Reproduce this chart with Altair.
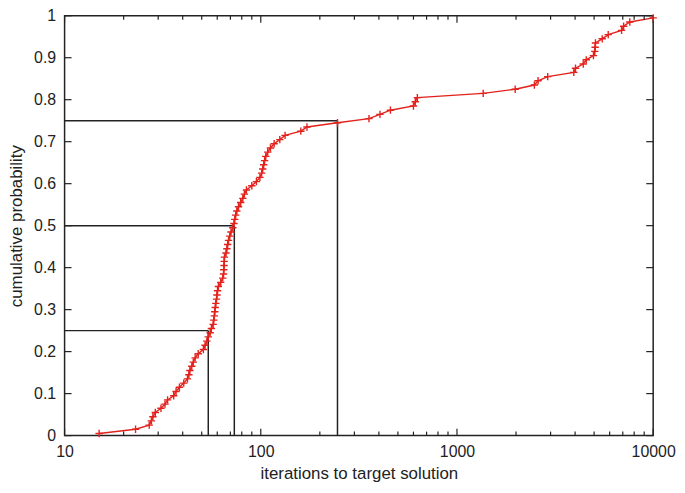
import altair as alt
import pandas as pd

# iterations to target solution (sorted), one per run
iterations = [
    15, 23, 27, 27.7, 28.2, 29, 31, 32.5, 33.5, 36,
    37, 38.5, 40.5, 42.3, 43, 43.5, 44.5, 45.3, 46.3, 48,
    51, 52, 53.1, 54, 55.2, 56, 57.2, 57.6, 58, 58.3,
    58.6, 59, 59.5, 59.8, 60.2, 60.8, 62.5, 64, 64.6, 64.8,
    65, 65.1, 65.3, 66.5, 67.2, 67.8, 68.5, 69.5, 70.5, 72,
    73, 73.7, 74.5, 75.5, 77, 79, 81, 82.5, 84.5, 90,
    95, 99, 101, 102.3, 103.5, 104.6, 106, 108.5, 112, 117,
    125, 133, 160, 172, 246, 356, 405, 458, 600, 613,
    628, 1360, 1980, 2480, 2590, 2900, 3940, 4020, 4400, 4560,
    4960, 5040, 5060, 5080, 5500, 5900, 6900, 7070, 7600, 10000,
]
probability = [
    0.005, 0.015, 0.025, 0.035, 0.045, 0.055, 0.065, 0.075, 0.085, 0.095,
    0.105, 0.115, 0.125, 0.135, 0.145, 0.155, 0.165, 0.175, 0.185, 0.195,
    0.205, 0.215, 0.225, 0.235, 0.245, 0.255, 0.265, 0.275, 0.285, 0.295,
    0.305, 0.315, 0.325, 0.335, 0.345, 0.355, 0.365, 0.375, 0.385, 0.395,
    0.405, 0.415, 0.425, 0.435, 0.445, 0.455, 0.465, 0.475, 0.485, 0.495,
    0.505, 0.515, 0.525, 0.535, 0.545, 0.555, 0.565, 0.575, 0.585, 0.595,
    0.605, 0.615, 0.625, 0.635, 0.645, 0.655, 0.665, 0.675, 0.685, 0.695,
    0.705, 0.715, 0.725, 0.735, 0.745, 0.755, 0.765, 0.775, 0.785, 0.795,
    0.805, 0.815, 0.825, 0.835, 0.845, 0.855, 0.865, 0.875, 0.885, 0.895,
    0.905, 0.915, 0.925, 0.935, 0.945, 0.955, 0.965, 0.975, 0.985, 0.995,
]

quartile_x = [54, 73.3, 246]
quartile_p = [0.25, 0.5, 0.75]

x_major = [10, 100, 1000, 10000]
x_minor = [20, 30, 40, 50, 60, 70, 80, 90,
           200, 300, 400, 500, 600, 700, 800, 900,
           2000, 3000, 4000, 5000, 6000, 7000, 8000, 9000]
y_ticks = [0, 0.1, 0.2, 0.3, 0.4, 0.5, 0.6, 0.7, 0.8, 0.9, 1.0]

W, H = 593, 423
FONT = "Liberation Sans, Arial, Helvetica, sans-serif"
RED = "#e3221c"

xs = alt.Scale(type="log", domain=[10, 10000], nice=False)
ys = alt.Scale(domain=[0, 1], nice=False)

df = pd.DataFrame({"it": iterations, "p": probability})
dq = pd.DataFrame({"q": quartile_x, "p": quartile_p, "start": [10] * 3, "zero": [0] * 3})
dmaj = pd.DataFrame({"v": x_major})
dmin = pd.DataFrame({"v": x_minor})
dy = pd.DataFrame({"v": y_ticks})

base_x = alt.X(
    "it:Q", scale=xs,
    axis=alt.Axis(values=x_major, format="d", title="iterations to target solution",
                  tickSize=0, labelPadding=8, titlePadding=6, domain=False, grid=False,
                  labelFlush=False),
)
base_y = alt.Y(
    "p:Q", scale=ys,
    axis=alt.Axis(values=y_ticks, format=".1~f", title="cumulative probability",
                  tickSize=0, labelPadding=9, titlePadding=8, domain=False, grid=False,
                  labelFlush=False),
)

line = alt.Chart(df).mark_line(color=RED, strokeWidth=1.4).encode(x=base_x, y=base_y)
pts = alt.Chart(df).mark_point(
    shape="M-1,0L1,0M0,-1L0,1", size=55, filled=False, color=RED, strokeWidth=1.4, opacity=1
).encode(x="it:Q", y="p:Q")

hrule = alt.Chart(dq).mark_rule(color="#222", strokeWidth=1.5).encode(
    x=alt.X("start:Q", scale=xs), x2="q:Q", y=alt.Y("p:Q", scale=ys)
)
vrule = alt.Chart(dq).mark_rule(color="#222", strokeWidth=1.5).encode(
    x=alt.X("q:Q", scale=xs), y=alt.Y("zero:Q", scale=ys), y2="p:Q"
)

tick_style = dict(color="#222", strokeWidth=1.2)
xmaj_b = alt.Chart(dmaj).mark_rule(**tick_style).encode(
    x=alt.X("v:Q", scale=xs), y=alt.value(H), y2=alt.value(H - 7))
xmaj_t = alt.Chart(dmaj).mark_rule(**tick_style).encode(
    x=alt.X("v:Q", scale=xs), y=alt.value(0), y2=alt.value(7))
xmin_b = alt.Chart(dmin).mark_rule(**tick_style).encode(
    x=alt.X("v:Q", scale=xs), y=alt.value(H), y2=alt.value(H - 4))
xmin_t = alt.Chart(dmin).mark_rule(**tick_style).encode(
    x=alt.X("v:Q", scale=xs), y=alt.value(0), y2=alt.value(4))
y_l = alt.Chart(dy).mark_rule(**tick_style).encode(
    y=alt.Y("v:Q", scale=ys), x=alt.value(0), x2=alt.value(7))
y_r = alt.Chart(dy).mark_rule(**tick_style).encode(
    y=alt.Y("v:Q", scale=ys), x=alt.value(W), x2=alt.value(W - 7))

chart = alt.layer(
    line, hrule, vrule, xmaj_b, xmaj_t, xmin_b, xmin_t, y_l, y_r, pts
).properties(
    width=W, height=H,
    autosize=alt.AutoSizeParams(type="none"),
    padding={"left": 57, "top": 6, "right": 24, "bottom": 48},
).configure_view(
    stroke="#222", strokeWidth=1.5
).configure_axis(
    labelFont=FONT, titleFont=FONT, labelFontSize=16, titleFontSize=17,
    labelColor="#222", titleColor="#222", titleFontWeight="normal",
)

chart.save("out.html", embed_options={"renderer": "svg", "actions": False})
